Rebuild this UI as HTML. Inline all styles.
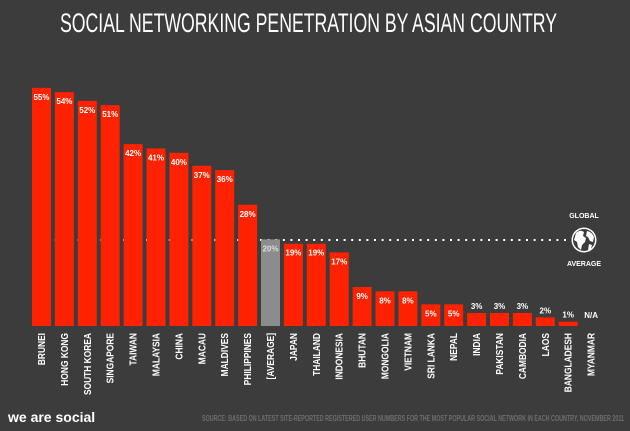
<!DOCTYPE html>
<html><head><meta charset="utf-8"><style>
html,body{margin:0;padding:0;background:#3c3c3c;}
svg{display:block;font-family:"Liberation Sans",sans-serif;}
</style></head><body>
<svg width="630" height="431" viewBox="0 0 630 431" xmlns="http://www.w3.org/2000/svg">
<rect width="630" height="431" fill="#3c3c3c"/>
<text x="60" y="32" font-size="27" fill="#fff" textLength="497" lengthAdjust="spacingAndGlyphs">SOCIAL NETWORKING PENETRATION BY ASIAN COUNTRY</text>
<line x1="32" y1="240" x2="570" y2="240" stroke="#fff" stroke-width="2" stroke-dasharray="2,5.6"/>
<g id="bars"></g>
<text x="584" y="218" font-size="7" font-weight="bold" fill="#fff" text-anchor="middle">GLOBAL</text>
<text x="584" y="266" font-size="7" font-weight="bold" fill="#fff" text-anchor="middle">AVERAGE</text>
<circle cx="584" cy="240" r="12.5" fill="#fff"/>
<circle cx="584" cy="240" r="11" fill="#3c3c3c"/>
<path d="M576 233 q4 -4 8 -1 l-1 4 l3 2 l-1 4 l-3 3 l-1 5 l-3 -3 l-1 -5 l-3 -2 z M587 231 q5 1 7 6 l-1 5 l-3 -1 l-2 -4 l-2 -1 z M589 244 l3 1 l-1 4 l-3 1 z" fill="#fff"/>
<text x="8" y="422" font-size="14" font-weight="bold" fill="#fff">we are social</text>
<text x="624" y="421" font-size="8" font-weight="bold" fill="#6e6e6e" text-anchor="end" textLength="422" lengthAdjust="spacingAndGlyphs">SOURCE: BASED ON LATEST SITE-REPORTED REGISTERED USER NUMBERS FOR THE MOST POPULAR SOCIAL NETWORK IN EACH COUNTRY, NOVEMBER 2011</text>
</svg>
<script>
var d=[["BRUNEI",55],["HONG KONG",54],["SOUTH KOREA",52],["SINGAPORE",51],["TAIWAN",42],["MALAYSIA",41],["CHINA",40],["MACAU",37],["MALDIVES",36],["PHILIPPINES",28],["[AVERAGE]",20],["JAPAN",19],["THAILAND",19],["INDONESIA",17],["BHUTAN",9],["MONGOLIA",8],["VIETNAM",8],["SRI LANKA",5],["NEPAL",5],["INDIA",3],["PAKISTAN",3],["CAMBODIA",3],["LAOS",2],["BANGLADESH",1],["MYANMAR",null]];
var s="";
d.forEach(function(e,i){
 var x=32+22.9*i, w=19, cx=x+w/2;
 if(e[1]!==null){
  var h=e[1]*4.33, y=326-h;
  s+='<rect x="'+x+'" y="'+y+'" width="'+w+'" height="'+h+'" fill="'+(i==10?'#8c8c8c':'#ff2200')+'"/>';
  var ty = e[1]<=3 ? y-4 : y+12;
  s+='<text x="'+cx+'" y="'+ty+'" font-size="8" font-weight="bold" fill="'+(i==10?'#ddd':'#fff')+'" text-anchor="middle">'+e[1]+'%</text>';
 } else {
  s+='<text x="'+cx+'" y="318" font-size="8" font-weight="bold" fill="#fff" text-anchor="middle">N/A</text>';
 }
 s+='<text transform="translate('+(cx+3.5)+',333) rotate(-90) scale(0.8,1)" font-size="10.5" font-weight="bold" fill="#fff" text-anchor="end">'+e[0]+'</text>';
});
document.getElementById("bars").innerHTML=s;
</script>
</body></html>
